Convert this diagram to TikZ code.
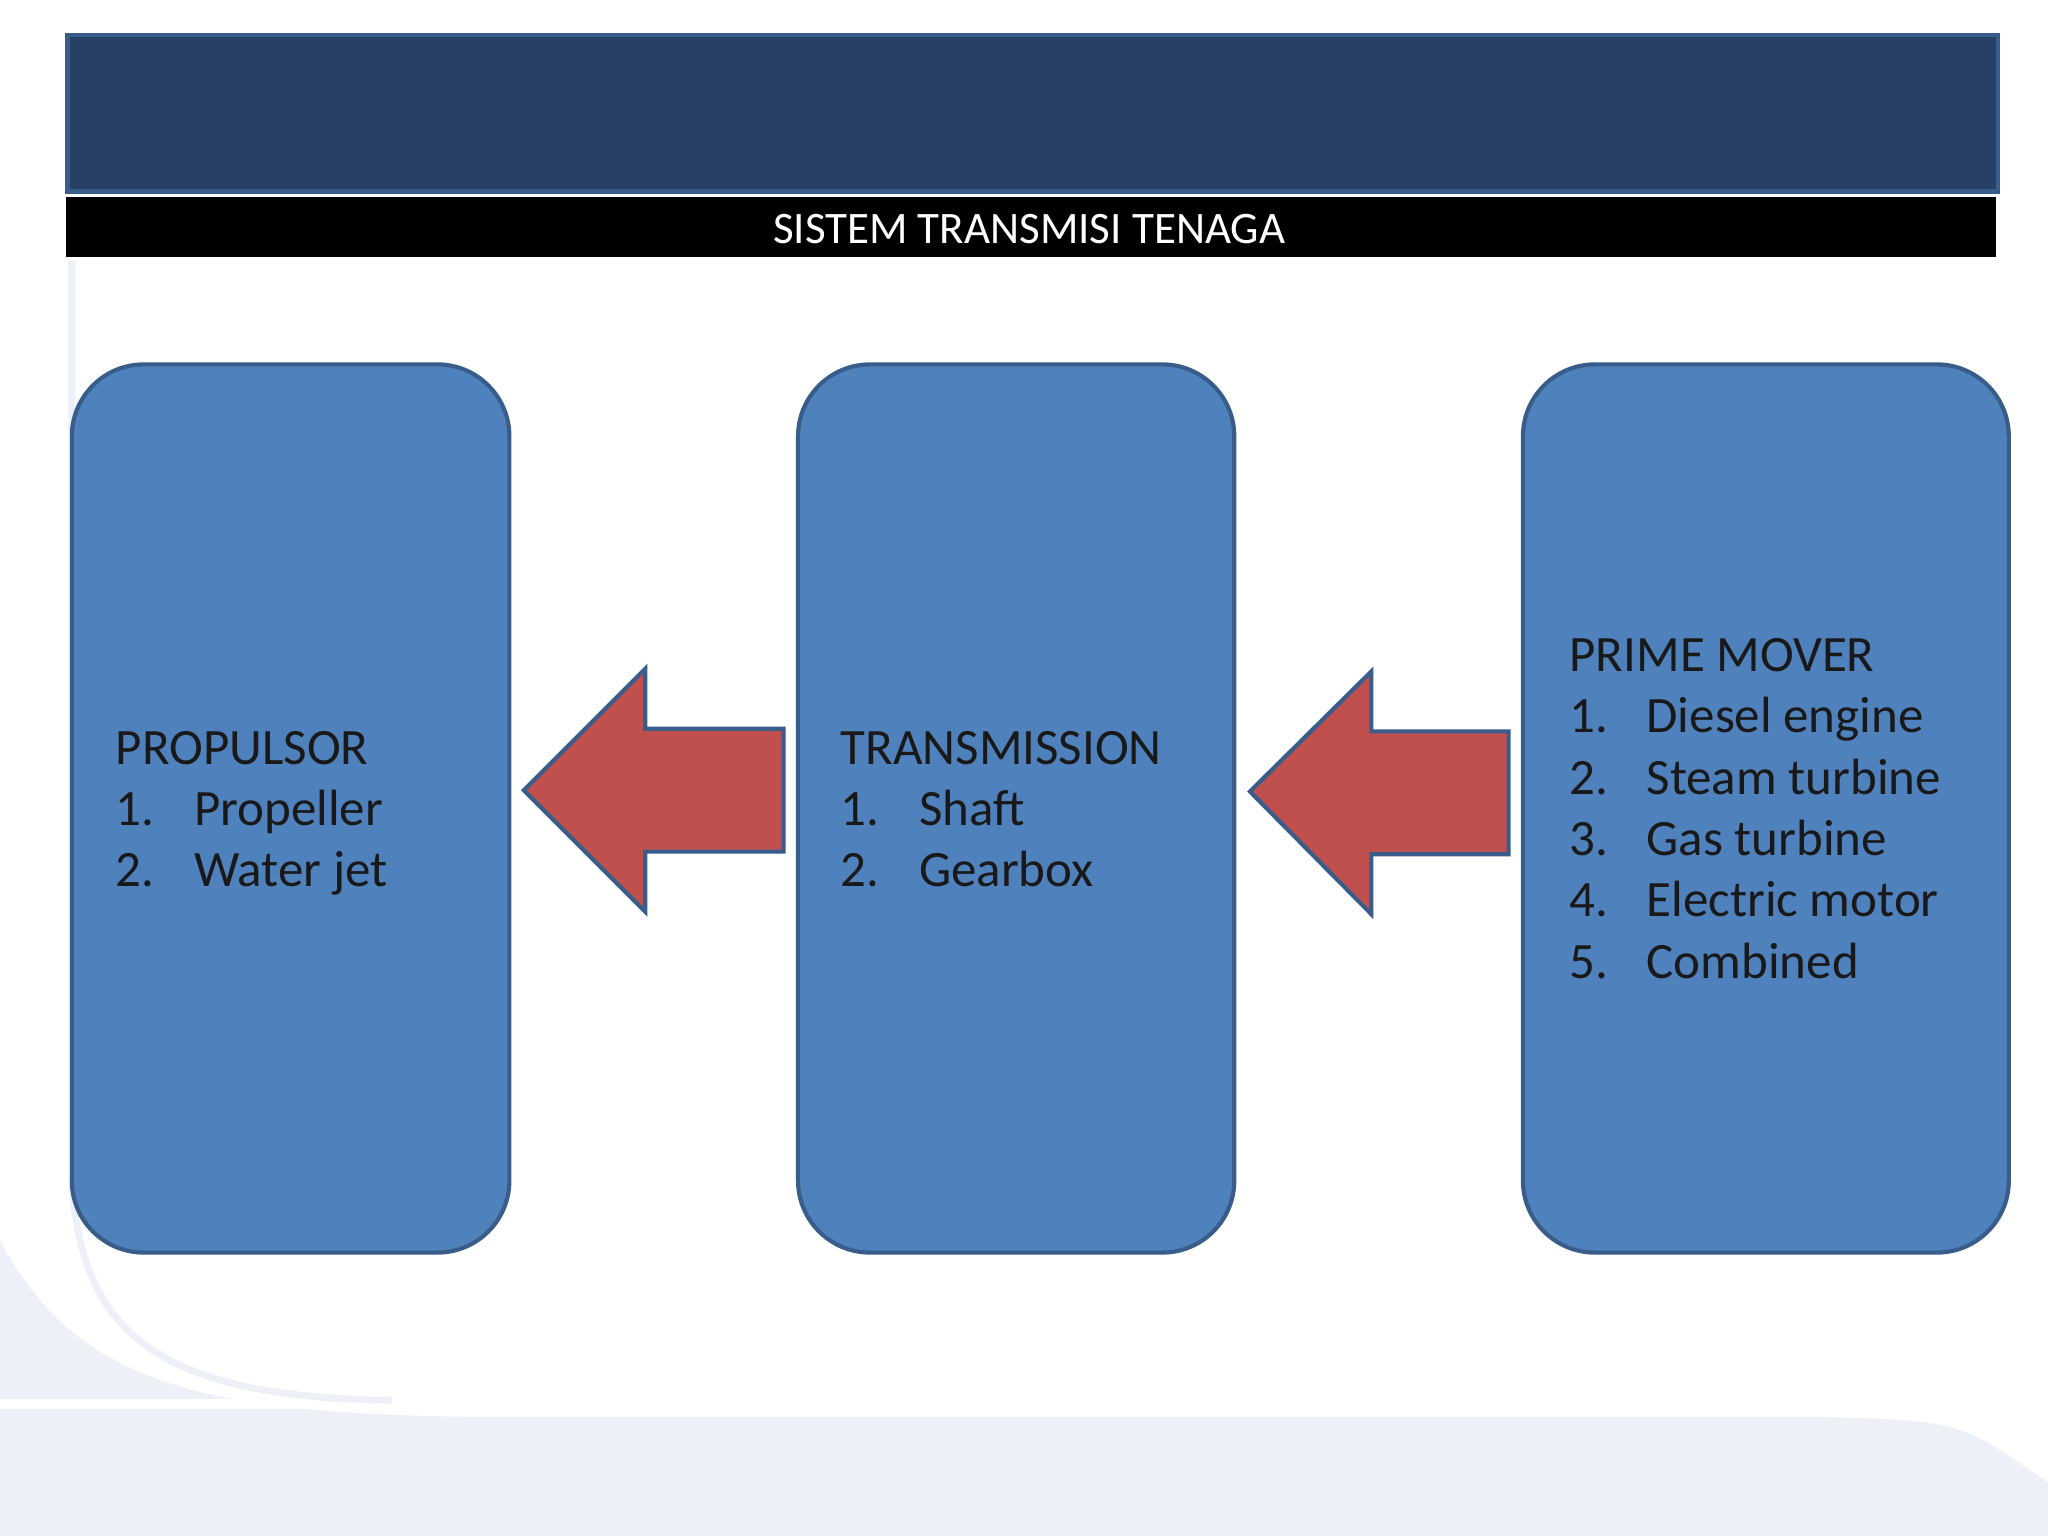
\documentclass[tikz,border=0pt]{standalone}
\usepackage{fontspec}
\setmainfont{Carlito}
\begin{document}
\begin{tikzpicture}[x=0.01cm,y=-0.01cm,
  box/.style={draw=boxb,line width=0.9pt,fill=boxf,rounded corners=0.55cm},
  arr/.style={draw=boxb,line width=0.9pt,fill=arrf},
  txt/.style={anchor=base west,font=\fontsize{11.1pt}{13pt}\selectfont,inner sep=0pt,text=black!90}]
\definecolor{boxf}{HTML}{4F81BD}
\definecolor{boxb}{HTML}{385D8A}
\definecolor{arrf}{HTML}{C0504D}
\definecolor{band}{HTML}{294066}
\definecolor{swoosh}{HTML}{EDF1F7}
\useasboundingbox (0,0) rectangle (1568,1176);
\fill[white] (0,0) rectangle (1568,1176);
\fill[swoosh] (0,950) .. controls (60,1060) and (150,1085) .. (400,1085) -- (1400,1085) .. controls (1500,1088) .. (1568,1135) -- (1568,1176) -- (0,1176) -- cycle;
\draw[white,line width=2pt] (0,1075) -- (1568,1075);
\draw[draw=swoosh,line width=1.5pt] (55,200) -- (55,900) .. controls (60,1020) and (120,1070) .. (300,1072);
% header
\node[fill=band,draw=boxb,line width=1pt,minimum width=14.77cm,minimum height=1.2cm,anchor=north west,inner sep=0pt] (head) at (50,25) {};
\node[fill=black,minimum width=14.77cm,minimum height=0.46cm,anchor=north west,inner sep=0pt] (bar) at (50,150) {};
\node[text=white,font=\fontsize{9.8pt}{11pt}\selectfont] (title) at (788,175) {SISTEM TRANSMISI TENAGA};
% boxes
\draw[box] (55,279) rectangle (390,959);
\draw[box] (611,279) rectangle (945,959);
\draw[box] (1166,279) rectangle (1538,959);
% arrows
\draw[arr] (401,605) -- (494,512) -- (494,558) -- (600,558) -- (600,652) -- (494,652) -- (494,698) -- cycle;
\draw[arr] (957,606) -- (1050,514) -- (1050,560) -- (1155,560) -- (1155,654) -- (1050,654) -- (1050,700) -- cycle;
% texts
\node[txt] (p0) at (88,585) {PROPULSOR};
\node[txt] (p1n) at (88,632) {1.}; \node[txt] (p1) at (148,632) {Propeller};
\node[txt] (p2n) at (88,679) {2.}; \node[txt] (p2) at (148,679) {Water jet};
\node[txt] (t0) at (643,585) {TRANSMISSION};
\node[txt] (t1n) at (643,632) {1.}; \node[txt] (t1) at (703,632) {Shaft};
\node[txt] (t2n) at (643,679) {2.}; \node[txt] (t2) at (703,679) {Gearbox};
\node[txt] (m0) at (1201,514) {PRIME MOVER};
\node[txt] (m1n) at (1201,561) {1.}; \node[txt] (m1) at (1260,561) {Diesel engine};
\node[txt] (m2n) at (1201,608) {2.}; \node[txt] (m2) at (1260,608) {Steam turbine};
\node[txt] (m3n) at (1201,655) {3.}; \node[txt] (m3) at (1260,655) {Gas turbine};
\node[txt] (m4n) at (1201,702) {4.}; \node[txt] (m4) at (1260,702) {Electric motor};
\node[txt] (m5n) at (1201,749) {5.}; \node[txt] (m5) at (1260,749) {Combined};
\end{tikzpicture}
\end{document}
